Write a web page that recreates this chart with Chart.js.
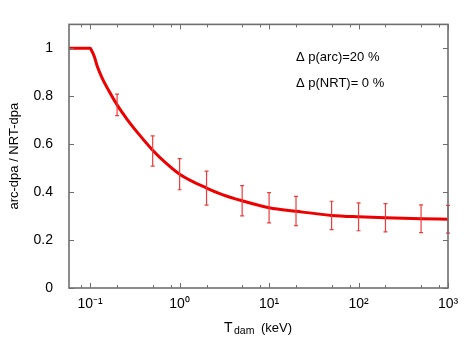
<!DOCTYPE html>
<html><head><meta charset="utf-8">
<script src="https://cdn.jsdelivr.net/npm/chart.js@4/dist/chart.umd.min.js"></script>
<style>html,body{margin:0;padding:0;background:#fff;}#wrap{width:474px;height:355px;position:relative;}</style>
</head><body><div id="wrap"><canvas id="c" width="474" height="355"></canvas></div>
<script>
// ---- data ----
const curveT     = [0.058, 0.1, 0.104, 0.111, 0.12, 0.135, 0.16, 0.2, 0.26, 0.35, 0.5, 0.7, 1, 2, 3, 5, 10, 20, 50, 100, 200, 500, 1000];
const curveRatio = [1, 1, 0.99, 0.967, 0.925, 0.879, 0.826, 0.764, 0.703, 0.642, 0.575, 0.522, 0.475, 0.417, 0.39, 0.364, 0.335, 0.32, 0.303, 0.297, 0.293, 0.289, 0.287];
const barT       = [0.2, 0.5, 1, 2, 5, 10, 20, 50, 100, 200, 500, 1000];
const barRatio   = [0.764, 0.572, 0.475, 0.417, 0.364, 0.335, 0.321, 0.303, 0.297, 0.293, 0.289, 0.287];
const barErr     = [0.045, 0.063, 0.065, 0.071, 0.063, 0.063, 0.061, 0.059, 0.058, 0.059, 0.058, 0.058];
const xTickValues = [0.1, 1, 10, 100, 1000];
const xTickLabels = ['10⁻¹', '10⁰', '10¹', '10²', '10³'];
const xMinorTicks = [0.08, 0.2, 0.5, 0.8, 2, 5, 8, 20, 50, 80, 200, 500, 800];
const yTickValues = [0, 0.2, 0.4, 0.6, 0.8, 1];
const yTickLabels = ['0', '0.2', '0.4', '0.6', '0.8', '1'];
const noteLines = ['Δ p(arc)=20 %', 'Δ p(NRT)= 0 %'];
const yTitle = 'arc-dpa / NRT-dpa';
const xTitleMain = 'T', xTitleSub = 'dam', xTitleUnit = '(keV)';

const RED = 'rgb(236,0,0)';
const BAR = 'rgb(238,60,60)';
const FRAME = '#6e6e6e';
const FONT = '"Liberation Sans", Arial, sans-serif';
const TICKFONT = '"Liberation Sans Narrow", "Liberation Sans", Arial, sans-serif';

const decor = {
  id: 'decor',
  afterDatasetsDraw(chart) {
    const ctx = chart.ctx, xs = chart.scales.x, ys = chart.scales.y, a = chart.chartArea;
    ctx.save();
    // error bars
    ctx.strokeStyle = BAR; ctx.lineWidth = 1.2;
    barT.forEach((t, i) => {
      const px = xs.getPixelForValue(t);
      const y1 = ys.getPixelForValue(barRatio[i] + barErr[i]);
      const y2 = ys.getPixelForValue(barRatio[i] - barErr[i]);
      ctx.beginPath();
      ctx.moveTo(px, y1); ctx.lineTo(px, y2);
      ctx.moveTo(px - 2, y1); ctx.lineTo(px + 2, y1);
      ctx.moveTo(px - 2, y2); ctx.lineTo(px + 2, y2);
      ctx.stroke();
    });
    // frame
    ctx.strokeStyle = FRAME; ctx.lineWidth = 1.6;
    ctx.strokeRect(a.left, a.top, a.right - a.left, a.bottom - a.top);
    // inward ticks
    ctx.lineWidth = 1;
    ctx.beginPath();
    const tickX = (v, len) => {
      const px = Math.round(xs.getPixelForValue(v)) + 0.5;
      ctx.moveTo(px, a.bottom); ctx.lineTo(px, a.bottom - len);
      ctx.moveTo(px, a.top); ctx.lineTo(px, a.top + len);
    };
    xTickValues.forEach(v => tickX(v, 5));
    xMinorTicks.forEach(v => tickX(v, 3));
    yTickValues.forEach(v => {
      const py = Math.round(ys.getPixelForValue(v)) + 0.5;
      ctx.moveTo(a.left, py); ctx.lineTo(a.left + 5, py);
      ctx.moveTo(a.right, py); ctx.lineTo(a.right - 5, py);
    });
    ctx.stroke();
    // annotation
    ctx.fillStyle = '#000';
    ctx.font = '13px ' + FONT;
    ctx.textBaseline = 'alphabetic'; ctx.textAlign = 'left';
    ctx.fillText(noteLines[0], 296, 61);
    ctx.fillText(noteLines[1], 296, 87);
    // x title with subscript
    ctx.font = '14px ' + FONT;
    ctx.fillText(xTitleMain, 224, 332);
    ctx.font = '10.5px ' + FONT;
    ctx.fillText(xTitleSub, 234, 334);
    ctx.font = '13px ' + FONT;
    ctx.fillText(xTitleUnit, 261, 332);
    ctx.restore();
  }
};

new Chart(document.getElementById('c'), {
  type: 'line',
  data: {
    datasets: [{
      data: curveT.map((t, i) => ({x: t, y: curveRatio[i]})),
      borderColor: RED, borderWidth: 3, pointRadius: 0, fill: false,
      cubicInterpolationMode: 'monotone'
    }, {
      data: barT.map((t, i) => ({x: t, y: barRatio[i]})),
      showLine: false, pointRadius: 0, borderColor: BAR
    }]
  },
  options: {
    responsive: false, animation: false, devicePixelRatio: 1,
    layout: {padding: {top: 17, right: 26, left: 0, bottom: 0}},
    plugins: {legend: {display: false}, tooltip: {enabled: false}},
    scales: {
      x: {
        type: 'logarithmic', min: 0.058, max: 1000,
        afterBuildTicks: s => { s.ticks = xTickValues.map(v => ({value: v})); },
        afterFit: s => { s.height = 67; },
        grid: {display: false, drawTicks: false},
        border: {display: false},
        ticks: {
          autoSkip: false, maxRotation: 0, padding: 8, color: '#000',
          font: {family: TICKFONT, size: 14},
          callback: (v, i) => xTickLabels[i]
        }
      },
      y: {
        type: 'linear', min: 0, max: 1.1,
        afterBuildTicks: s => { s.ticks = yTickValues.map(v => ({value: v})); },
        afterFit: s => { s.width = 69; },
        grid: {display: false, drawTicks: false},
        border: {display: false},
        ticks: {
          padding: 16, color: '#000',
          font: {family: TICKFONT, size: 14},
          callback: (v, i) => yTickLabels[i]
        },
        title: {
          display: true, text: yTitle, color: '#000',
          font: {family: FONT, size: 13}, padding: {top: 7, bottom: 0}
        }
      }
    }
  },
  plugins: [decor]
});
</script>
</body></html>
